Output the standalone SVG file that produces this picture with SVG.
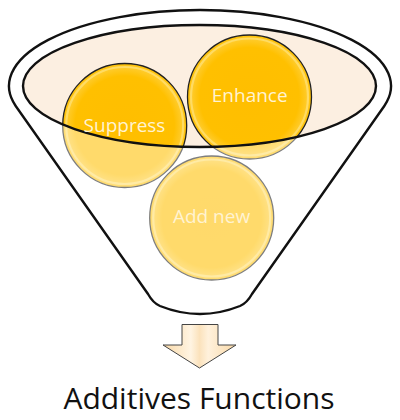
<svg xmlns="http://www.w3.org/2000/svg" width="400" height="420" viewBox="0 0 400 420">
  <style>
    .ball { fill: url(#ballGrad); stroke: #222; stroke-width: 1.3; }
    .rim { fill: none; stroke: #FFE27A; stroke-width: 2.2; opacity: 0.75; }
    .lbl { font-family: "Open Sans", "Liberation Sans", sans-serif; font-size: 19px; fill: #FFF3D2; text-anchor: middle; }
    .title { font-family: "Open Sans", "Liberation Sans", sans-serif; font-size: 30px; fill: #111; text-anchor: middle; }
  </style>
  <defs>
    <radialGradient id="ballGrad" cx="0.5" cy="0.5" r="0.5">
      <stop offset="0" stop-color="#FFBE00"/>
      <stop offset="0.8" stop-color="#FFC000"/>
      <stop offset="0.93" stop-color="#FFCB2A"/>
      <stop offset="1" stop-color="#FFC000"/>
    </radialGradient>
    <linearGradient id="arrowGrad" x1="0" y1="0" x2="1" y2="0">
      <stop offset="0" stop-color="#F9D9A8"/>
      <stop offset="0.38" stop-color="#FFF4E2"/>
      <stop offset="0.5" stop-color="#FBE2BC"/>
      <stop offset="0.62" stop-color="#FFF1DC"/>
      <stop offset="1" stop-color="#F9D9A8"/>
    </linearGradient>
  </defs>

  <g id="funnel">
    <path id="funnel-body" d="M 15.7,106 A 191 76 0 1 1 384.3,106 L 252,294 Q 247,303 240,306 Q 200,322 160,306 Q 153,303 148,294 Z" fill="#FFFFFF" stroke="none"/>
    <ellipse id="funnel-opening" cx="199.5" cy="86" rx="176.5" ry="61" fill="#FCEFE1"/>
  </g>

  <g id="node-suppress">
    <circle class="ball" cx="124.7" cy="125.5" r="62"/>
    <circle class="rim" cx="124.7" cy="125.5" r="58.5"/>
  </g>
  <g id="node-enhance">
    <circle class="ball" cx="249.5" cy="97" r="62"/>
    <circle class="rim" cx="249.5" cy="97" r="58.5"/>
  </g>
  <g id="node-addnew">
    <circle class="ball" cx="211.7" cy="218" r="62"/>
    <circle class="rim" cx="211.7" cy="218" r="58.5"/>
  </g>

  <!-- translucent front wall of the funnel -->
  <path id="funnel-front" fill-rule="evenodd" fill="#FFFFFF" fill-opacity="0.42"
        d="M 15.7,106 A 191 76 0 1 1 384.3,106 L 252,294 Q 247,303 240,306 Q 200,322 160,306 Q 153,303 148,294 Z
           M 23,86 A 176.5 61 0 1 0 376,86 A 176.5 61 0 1 0 23,86 Z"/>

  <g id="funnel-lines" fill="none" stroke="#111" stroke-width="2.4">
    <ellipse cx="199.5" cy="86" rx="176.5" ry="61"/>
    <path d="M 15.7,106 A 191 76 0 1 1 384.3,106 L 252,294 Q 247,303 240,306 Q 200,322 160,306 Q 153,303 148,294 Z"/>
  </g>

  <g id="labels">
    <text class="lbl" x="124.5" y="131.7">Suppress</text>
    <text class="lbl" x="249.7" y="102.3">Enhance</text>
    <text class="lbl" x="211.5" y="223.3">Add new</text>
  </g>

  <g id="connectors">
    <path d="M 182,324.5 L 218,324.5 L 218,345 L 236,345 L 199.5,368 L 163,345 L 182,345 Z" fill="url(#arrowGrad)" stroke="#444" stroke-width="1"/>
  </g>

  <g id="output">
    <text class="title" x="199" y="409">Additives Functions</text>
  </g>
</svg>
